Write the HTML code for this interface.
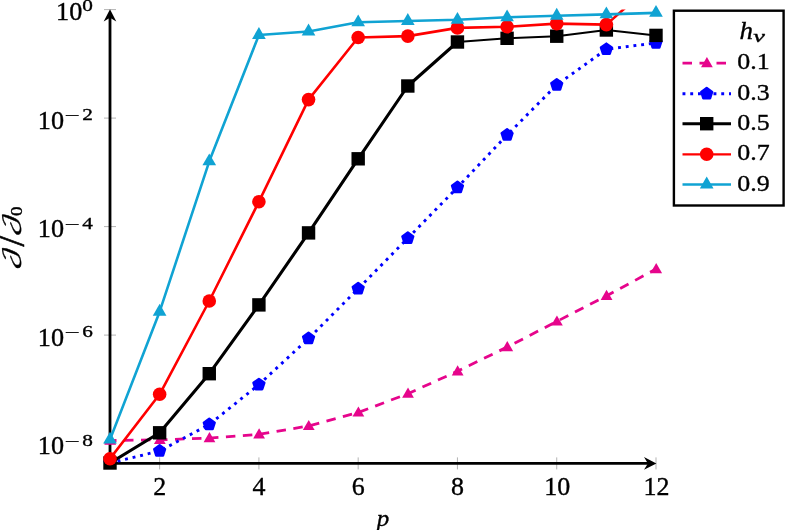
<!DOCTYPE html>
<html><head><meta charset="utf-8"><title>plot</title>
<style>
html,body{margin:0;padding:0;background:#fff;}
body{width:785px;height:530px;overflow:hidden;}
svg{display:block;}
text{font-family:"Liberation Serif","DejaVu Serif",serif;fill:#000;stroke:#000;stroke-width:0.35px;}
.t{font-size:24.5px;}
.s{font-size:16.6px;}
.i{font-style:italic;}
.c{font-family:"DejaVu Math TeX Gyre","Liberation Serif","DejaVu Serif",serif;}
</style></head><body>
<svg width="785" height="530" viewBox="0 0 785 530">
<rect width="785" height="530" fill="#fff"/>
<defs><clipPath id="c"><rect x="110" y="9.6" width="546" height="453.8"/></clipPath></defs>

<g stroke="#808080" stroke-width="0.6">
<line x1="159.64" y1="457.40" x2="159.64" y2="469.40"/>
<line x1="258.91" y1="457.40" x2="258.91" y2="469.40"/>
<line x1="358.18" y1="457.40" x2="358.18" y2="469.40"/>
<line x1="457.45" y1="457.40" x2="457.45" y2="469.40"/>
<line x1="556.73" y1="457.40" x2="556.73" y2="469.40"/>
<line x1="656.00" y1="457.40" x2="656.00" y2="469.40"/>
<line x1="104" y1="9.60" x2="116" y2="9.60"/>
<line x1="104" y1="118.10" x2="116" y2="118.10"/>
<line x1="104" y1="226.60" x2="116" y2="226.60"/>
<line x1="104" y1="335.10" x2="116" y2="335.10"/>
<line x1="104" y1="443.60" x2="116" y2="443.60"/>
</g>
<g stroke="#000" stroke-width="2.8" fill="none"><line x1="110" y1="464.80" x2="110" y2="13.60"/><line x1="108.6" y1="463.40" x2="652" y2="463.40"/></g>
<path d="M656.4 463.4 L644.0 457.09999999999997 L647.9 463.4 L644.0 469.7 Z" fill="#000"/>
<path d="M110 9.20 L103.7 21.60 L110 17.70 L116.3 21.60 Z" fill="#000"/>
<polyline clip-path="url(#c)" points="110.00,440.60 159.64,439.80 209.27,438.10 258.91,434.30 308.55,426.00 358.18,412.50 407.82,393.70 457.45,371.30 507.09,347.10 556.73,321.50 606.36,295.90 656.00,269.10" fill="none" stroke="#e6058c" stroke-width="2.8" stroke-dasharray="9.5 7.5" stroke-dashoffset="3.0" stroke-linejoin="round"/>
<polygon points="110.20,434.50 116.09,444.70 104.31,444.70" fill="#e6058c"/>
<polygon points="159.84,433.70 165.73,443.90 153.95,443.90" fill="#e6058c"/>
<polygon points="209.47,432.00 215.36,442.20 203.58,442.20" fill="#e6058c"/>
<polygon points="259.11,428.20 265.00,438.40 253.22,438.40" fill="#e6058c"/>
<polygon points="308.75,419.90 314.63,430.10 302.86,430.10" fill="#e6058c"/>
<polygon points="358.38,406.40 364.27,416.60 352.49,416.60" fill="#e6058c"/>
<polygon points="408.02,387.60 413.91,397.80 402.13,397.80" fill="#e6058c"/>
<polygon points="457.65,365.20 463.54,375.40 451.77,375.40" fill="#e6058c"/>
<polygon points="507.29,341.00 513.18,351.20 501.40,351.20" fill="#e6058c"/>
<polygon points="556.93,315.40 562.82,325.60 551.04,325.60" fill="#e6058c"/>
<polygon points="606.56,289.80 612.45,300.00 600.67,300.00" fill="#e6058c"/>
<polygon points="656.20,263.00 662.09,273.20 650.31,273.20" fill="#e6058c"/>
<polyline clip-path="url(#c)" points="110.00,463.00 159.64,451.00 209.27,424.50 258.91,384.60 308.55,338.50 358.18,288.70 407.82,238.20 457.45,187.40 507.09,135.00 556.73,84.90 606.36,49.30 656.00,42.90" fill="none" stroke="#0000ff" stroke-width="2.9" stroke-dasharray="2.9 4.85" stroke-linejoin="round"/>
<polygon points="110.00,457.30 104.58,461.24 106.65,467.61 113.35,467.61 115.42,461.24" fill="#0000ff" stroke="#0000ff" stroke-width="2.4" stroke-linejoin="round"/>
<polygon points="159.64,445.30 154.22,449.24 156.29,455.61 162.99,455.61 165.06,449.24" fill="#0000ff" stroke="#0000ff" stroke-width="2.4" stroke-linejoin="round"/>
<polygon points="209.27,418.80 203.85,422.74 205.92,429.11 212.62,429.11 214.69,422.74" fill="#0000ff" stroke="#0000ff" stroke-width="2.4" stroke-linejoin="round"/>
<polygon points="258.91,378.90 253.49,382.84 255.56,389.21 262.26,389.21 264.33,382.84" fill="#0000ff" stroke="#0000ff" stroke-width="2.4" stroke-linejoin="round"/>
<polygon points="308.55,332.80 303.12,336.74 305.20,343.11 311.90,343.11 313.97,336.74" fill="#0000ff" stroke="#0000ff" stroke-width="2.4" stroke-linejoin="round"/>
<polygon points="358.18,283.00 352.76,286.94 354.83,293.31 361.53,293.31 363.60,286.94" fill="#0000ff" stroke="#0000ff" stroke-width="2.4" stroke-linejoin="round"/>
<polygon points="407.82,232.50 402.40,236.44 404.47,242.81 411.17,242.81 413.24,236.44" fill="#0000ff" stroke="#0000ff" stroke-width="2.4" stroke-linejoin="round"/>
<polygon points="457.45,181.70 452.03,185.64 454.10,192.01 460.80,192.01 462.88,185.64" fill="#0000ff" stroke="#0000ff" stroke-width="2.4" stroke-linejoin="round"/>
<polygon points="507.09,129.30 501.67,133.24 503.74,139.61 510.44,139.61 512.51,133.24" fill="#0000ff" stroke="#0000ff" stroke-width="2.4" stroke-linejoin="round"/>
<polygon points="556.73,79.20 551.31,83.14 553.38,89.51 560.08,89.51 562.15,83.14" fill="#0000ff" stroke="#0000ff" stroke-width="2.4" stroke-linejoin="round"/>
<polygon points="606.36,43.60 600.94,47.54 603.01,53.91 609.71,53.91 611.78,47.54" fill="#0000ff" stroke="#0000ff" stroke-width="2.4" stroke-linejoin="round"/>
<polygon points="656.00,37.20 650.58,41.14 652.65,47.51 659.35,47.51 661.42,41.14" fill="#0000ff" stroke="#0000ff" stroke-width="2.4" stroke-linejoin="round"/>
<polyline clip-path="url(#c)" points="110.00,463.00 159.64,432.80 209.27,373.70 258.91,304.90 308.55,232.90 358.18,158.80 407.82,86.00 457.45,42.00" fill="none" stroke="#000000" stroke-width="3.1" stroke-linejoin="round"/>
<polyline clip-path="url(#c)" points="457.45,42.00 507.09,38.30 556.73,36.20 606.36,30.00 656.00,35.40" fill="none" stroke="#000000" stroke-width="2.0" stroke-linejoin="round"/>
<rect x="103.30" y="456.30" width="13.4" height="13.4" fill="#000000"/>
<rect x="152.94" y="426.10" width="13.4" height="13.4" fill="#000000"/>
<rect x="202.57" y="367.00" width="13.4" height="13.4" fill="#000000"/>
<rect x="252.21" y="298.20" width="13.4" height="13.4" fill="#000000"/>
<rect x="301.85" y="226.20" width="13.4" height="13.4" fill="#000000"/>
<rect x="351.48" y="152.10" width="13.4" height="13.4" fill="#000000"/>
<rect x="401.12" y="79.30" width="13.4" height="13.4" fill="#000000"/>
<rect x="450.75" y="35.30" width="13.4" height="13.4" fill="#000000"/>
<rect x="500.39" y="31.60" width="13.4" height="13.4" fill="#000000"/>
<rect x="550.03" y="29.50" width="13.4" height="13.4" fill="#000000"/>
<rect x="599.66" y="23.30" width="13.4" height="13.4" fill="#000000"/>
<rect x="649.30" y="28.70" width="13.4" height="13.4" fill="#000000"/>
<polyline clip-path="url(#c)" points="110.00,458.70 159.64,394.30 209.27,301.00 258.91,201.70 308.55,99.60 358.18,37.50 407.82,36.10 457.45,27.90 507.09,26.80 556.73,23.60 606.36,24.60 656.00,-19.40" fill="none" stroke="#ff0000" stroke-width="2.6" stroke-linejoin="round"/>
<circle cx="110.00" cy="458.70" r="6.8" fill="#ff0000"/>
<circle cx="159.64" cy="394.30" r="6.8" fill="#ff0000"/>
<circle cx="209.27" cy="301.00" r="6.8" fill="#ff0000"/>
<circle cx="258.91" cy="201.70" r="6.8" fill="#ff0000"/>
<circle cx="308.55" cy="99.60" r="6.8" fill="#ff0000"/>
<circle cx="358.18" cy="37.50" r="6.8" fill="#ff0000"/>
<circle cx="407.82" cy="36.10" r="6.8" fill="#ff0000"/>
<circle cx="457.45" cy="27.90" r="6.8" fill="#ff0000"/>
<circle cx="507.09" cy="26.80" r="6.8" fill="#ff0000"/>
<circle cx="556.73" cy="23.60" r="6.8" fill="#ff0000"/>
<circle cx="606.36" cy="24.60" r="6.8" fill="#ff0000"/>
<polyline clip-path="url(#c)" points="110.00,439.60 159.64,311.70 209.27,161.30 258.91,35.00 308.55,31.50 358.18,22.30 407.82,21.00 457.45,19.80 507.09,17.30 556.73,15.70 606.36,14.40 656.00,12.90" fill="none" stroke="#10a3d3" stroke-width="2.6" stroke-linejoin="round"/>
<polygon points="110.00,431.70 116.84,443.55 103.16,443.55" fill="#10a3d3"/>
<polygon points="159.64,303.80 166.48,315.65 152.79,315.65" fill="#10a3d3"/>
<polygon points="209.27,153.40 216.11,165.25 202.43,165.25" fill="#10a3d3"/>
<polygon points="258.91,27.10 265.75,38.95 252.07,38.95" fill="#10a3d3"/>
<polygon points="308.55,23.60 315.39,35.45 301.70,35.45" fill="#10a3d3"/>
<polygon points="358.18,14.40 365.02,26.25 351.34,26.25" fill="#10a3d3"/>
<polygon points="407.82,13.10 414.66,24.95 400.98,24.95" fill="#10a3d3"/>
<polygon points="457.45,11.90 464.30,23.75 450.61,23.75" fill="#10a3d3"/>
<polygon points="507.09,9.40 513.93,21.25 500.25,21.25" fill="#10a3d3"/>
<polygon points="556.73,7.80 563.57,19.65 549.89,19.65" fill="#10a3d3"/>
<polygon points="606.36,6.50 613.21,18.35 599.52,18.35" fill="#10a3d3"/>
<polygon points="656.00,5.00 662.84,16.85 649.16,16.85" fill="#10a3d3"/>
<text class="t" transform="translate(159.64,494.50) scale(1.06,1.0)" text-anchor="middle">2</text>
<text class="t" transform="translate(258.91,494.50) scale(1.06,1.0)" text-anchor="middle">4</text>
<text class="t" transform="translate(358.18,494.50) scale(1.06,1.0)" text-anchor="middle">6</text>
<text class="t" transform="translate(457.45,494.50) scale(1.06,1.0)" text-anchor="middle">8</text>
<text class="t" transform="translate(557.13,494.50) scale(1.06,1.0)" text-anchor="middle">10</text>
<text class="t" transform="translate(656.40,494.50) scale(1.06,1.0)" text-anchor="middle">12</text>
<text class="t" transform="translate(56.10,20.20) scale(1.07,1.0)">10</text>
<text class="s" transform="translate(82.20,10.90) scale(1.28,1.0)">0</text>
<text class="t" transform="translate(37.80,128.70) scale(1.07,1.0)">10</text>
<text class="s" transform="translate(64.60,121.00) scale(1.6,1.0)">−</text>
<text class="s" transform="translate(82.20,120.20) scale(1.28,1.0)">2</text>
<text class="t" transform="translate(37.80,237.20) scale(1.07,1.0)">10</text>
<text class="s" transform="translate(64.60,229.50) scale(1.6,1.0)">−</text>
<text class="s" transform="translate(82.20,228.70) scale(1.28,1.0)">4</text>
<text class="t" transform="translate(37.80,345.70) scale(1.07,1.0)">10</text>
<text class="s" transform="translate(64.60,338.00) scale(1.6,1.0)">−</text>
<text class="s" transform="translate(82.20,337.20) scale(1.28,1.0)">6</text>
<text class="t" transform="translate(37.80,454.20) scale(1.07,1.0)">10</text>
<text class="s" transform="translate(64.60,446.50) scale(1.6,1.0)">−</text>
<text class="s" transform="translate(82.20,445.70) scale(1.28,1.0)">8</text>
<text class="t i" transform="translate(383.00,526.40) scale(1.02,0.94)" text-anchor="middle">p</text>
<g transform="translate(18.3,267.6) rotate(-90)">
<text class="c" font-size="25" transform="translate(-2.9,-1.9) scale(1.25,0.74)">𝒥</text>
<text class="t" transform="translate(21.2,5.6) scale(1.55,1.42)">/</text>
<text class="c" font-size="25" transform="translate(30.6,-1.9) scale(1.25,0.74)">𝒥</text>
<text class="s" transform="translate(51.6,3.4) scale(1.15,1)">0</text>
</g>
<rect x="673.9" y="10.7" width="109.7" height="194.8" fill="#fff" stroke="#000" stroke-width="2.4"/>
<text class="t i" transform="translate(739.60,38.50) scale(1.1,1.0)">h</text>
<text class="s i" transform="translate(753.20,41.60) scale(1.58,1.0)">v</text>
<line x1="682.5" y1="63.1" x2="731" y2="63.1" stroke="#e6058c" stroke-width="2.8" stroke-dasharray="9.5 7.5"/>
<polygon points="706.90,57.00 712.79,67.20 701.01,67.20" fill="#e6058c"/>
<text class="t" transform="translate(737.30,69.10) scale(1.085,1.0)" style="font-size:23.9px">0.1</text>
<line x1="682.5" y1="93.7" x2="731" y2="93.7" stroke="#0000ff" stroke-width="2.9" stroke-dasharray="2.9 4.85"/>
<polygon points="706.70,88.00 701.28,91.94 703.35,98.31 710.05,98.31 712.12,91.94" fill="#0000ff" stroke="#0000ff" stroke-width="2.4" stroke-linejoin="round"/>
<text class="t" transform="translate(737.30,99.70) scale(1.085,1.0)" style="font-size:23.9px">0.3</text>
<line x1="682.5" y1="123.7" x2="731" y2="123.7" stroke="#000000" stroke-width="3.1"/>
<rect x="700.00" y="117.00" width="13.4" height="13.4" fill="#000000"/>
<text class="t" transform="translate(737.30,129.70) scale(1.085,1.0)" style="font-size:23.9px">0.5</text>
<line x1="682.5" y1="154.3" x2="731" y2="154.3" stroke="#ff0000" stroke-width="2.3"/>
<circle cx="706.70" cy="154.30" r="6.8" fill="#ff0000"/>
<text class="t" transform="translate(737.30,160.30) scale(1.085,1.0)" style="font-size:23.9px">0.7</text>
<line x1="682.5" y1="184.5" x2="731" y2="184.5" stroke="#10a3d3" stroke-width="2.3"/>
<polygon points="706.70,176.60 713.54,188.45 699.86,188.45" fill="#10a3d3"/>
<text class="t" transform="translate(737.30,190.50) scale(1.085,1.0)" style="font-size:23.9px">0.9</text>
</svg></body></html>
